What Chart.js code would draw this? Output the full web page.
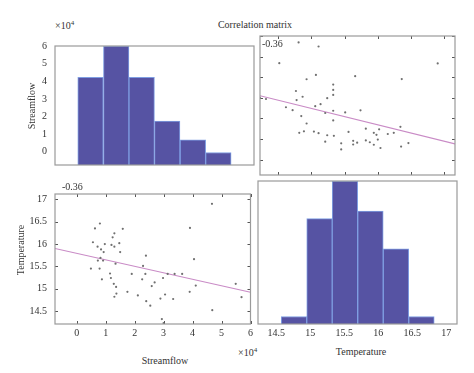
<!DOCTYPE html>
<html>
<head>
<meta charset="utf-8">
<script src="https://cdn.jsdelivr.net/npm/chart.js@4.4.0/dist/chart.umd.min.js"></script>
<style>
  body { margin: 0; background: #fff; }
  #wrap { position: relative; width: 474px; height: 373px; overflow: hidden; font-family: "Liberation Serif", serif; color: #333; }
  canvas { position: absolute; }
  .txt { position: absolute; font-size: 10px; line-height: 1; white-space: nowrap; transform: translate(-50%, -50%); }
  .rot { transform: translate(-50%, -50%) rotate(-90deg); }
  .left { transform: translate(0, -50%); }
  sup { font-size: 7px; vertical-align: 4px; }
</style>
</head>
<body>
<div id="wrap">
  <canvas id="c11"></canvas>
  <canvas id="c12"></canvas>
  <canvas id="c21"></canvas>
  <canvas id="c22"></canvas>

  <div class="txt" style="left:255px; top:25px;">Correlation matrix</div>
  <div class="txt left" style="left:55px; top:25px;">×10<sup>4</sup></div>
  <div class="txt rot" style="left:32px; top:106px;">Streamflow</div>
  <div class="txt rot" style="left:21px; top:250px;">Temperature</div>
  <div class="txt" style="left:165px; top:361px;">Streamflow</div>
  <div class="txt left" style="left:238px; top:352px;">×10<sup>4</sup></div>
  <div class="txt" style="left:361px; top:352px;">Temperature</div>
  <div class="txt left" style="left:262px; top:44px;">-0.36</div>
  <div class="txt left" style="left:62px; top:187px;">-0.36</div>
</div>

<script>
// streamflow (x10^4) and temperature, one pair per observation
const streamflow = [4.67, 0.63, 0.80, 1.30, 1.59, 3.91, 1.24, 0.56, 0.72, 0.97,
  1.20, 1.30, 1.47, 0.84, 0.93, 1.50, 2.39, 0.82, 0.73, 0.91,
  4.05, 0.49, 0.79, 1.34, 2.29, 1.15, 1.90, 2.37, 3.14, 3.38,
  3.64, 0.87, 1.18, 2.26, 2.98, 2.69, 1.28, 1.36, 4.11, 2.59,
  5.49, 1.75, 3.90, 2.11, 3.05, 1.30, 1.37, 2.40, 2.89, 3.33,
  2.54, 4.68, 2.94, 3.00, 5.69];
const temperature = [16.90, 16.35, 16.46, 16.24, 16.34, 16.36, 16.15, 16.04, 15.94, 16.00,
  15.98, 15.94, 16.02, 15.88, 15.82, 15.82, 15.74, 15.69, 15.63, 15.63,
  15.66, 15.45, 15.45, 15.56, 15.51, 15.34, 15.33, 15.33, 15.33, 15.33,
  15.33, 15.21, 15.24, 15.21, 15.24, 15.14, 15.11, 15.04, 15.07, 15.06,
  15.11, 14.93, 14.93, 14.85, 14.87, 14.82, 14.89, 14.72, 14.78, 14.77,
  14.62, 14.52, 14.32, 14.23, 14.81];

// histograms
const flowBins = [0.454, 1.326, 2.191, 3.056, 3.928, 4.792];
const flowCounts = [14, 19, 14, 7, 4, 2];
const tempBins = [14.76, 15.135, 15.51, 15.886, 16.262, 16.637];
const tempCounts = [1, 14, 19, 15, 10, 1];

// least squares lines, end points
const fitTempX = [-0.75, 6];
const fitTempY = [15.90, 14.92];
const fitFlowX = [14.23, 17.16];
const fitFlowY = [3.10, 0.76];

const flowTicks = [0, 1, 2, 3, 4, 5, 6];
const tempTicks = [14.5, 15, 15.5, 16, 16.5, 17];

const flowRange = [-0.75, 6];
const tempRange = [14.23, 17.16];
const tempRangeY = [14.21, 17.12];

const barFill = '#5653a3';
const barEdge = '#7f9ee2';
const fitColor = '#c98bc6';
const dotColor = '#707070';
const tickFont = { family: 'Liberation Serif', size: 10 };

// draws the box round the axes and the inward ticks
function boxPlugin(ticksX, ticksY) {
  return {
    id: 'box',
    afterDraw(chart) {
      const { ctx, chartArea: a } = chart;
      ctx.save();
      if (ticksX) {
        const sx = chart.scales.x, sy = chart.scales.y;
        ctx.strokeStyle = '#555';
        ctx.lineWidth = 1;
        ctx.beginPath();
        ticksX.forEach(v => {
          const px = Math.round(sx.getPixelForValue(v)) + 0.5;
          ctx.moveTo(px, a.bottom); ctx.lineTo(px, a.bottom - 3);
          ctx.moveTo(px, a.top); ctx.lineTo(px, a.top + 3);
        });
        ticksY.forEach(v => {
          const py = Math.round(sy.getPixelForValue(v)) + 0.5;
          ctx.moveTo(a.left, py); ctx.lineTo(a.left + 3, py);
          ctx.moveTo(a.right, py); ctx.lineTo(a.right - 3, py);
        });
        ctx.stroke();
      }
      ctx.strokeStyle = '#9a9a9a';
      ctx.lineWidth = 1.2;
      ctx.strokeRect(a.left, a.top, a.width, a.height);
      ctx.restore();
    }
  };
}

function axis(range, ticks, show, side, pad) {
  const ax = {
    type: 'linear',
    min: range[0],
    max: range[1],
    display: show,
    offset: false,
    grid: { display: false, drawTicks: false },
    border: { display: false },
    afterBuildTicks: s => { s.ticks = ticks.map(v => ({ value: v })); },
    ticks: {
      font: tickFont,
      color: '#333',
      autoSkip: false,
      maxRotation: 0,
      padding: side === 'y' ? 8 : 3,
      callback: v => String(v)
    }
  };
  if (show) {
    if (side === 'y') ax.afterFit = s => { s.width = pad.l; };
    else ax.afterFit = s => { s.height = pad.b; };
  }
  return ax;
}

function place(id, box, pad) {
  const cv = document.getElementById(id);
  cv.width = box.w + pad.l + pad.r;
  cv.height = box.h + pad.t + pad.b;
  cv.style.left = (box.x - pad.l) + 'px';
  cv.style.top = (box.y - pad.t) + 'px';
  return cv;
}

function histogram(id, box, pad, xRange, xTicks, yRange, yTicks, showX, showY, bins, counts) {
  const cv = place(id, box, pad);
  return new Chart(cv, {
    type: 'bar',
    data: {
      datasets: [{
        data: bins.map((b, i) => ({ x: b, y: counts[i] })),
        yAxisID: 'yh',
        backgroundColor: barFill,
        borderColor: barEdge,
        borderWidth: 1,
        barPercentage: 1,
        categoryPercentage: 1
      }]
    },
    options: {
      responsive: false,
      animation: false,
      layout: { padding: { top: pad.t, right: pad.r, left: showY ? 0 : pad.l, bottom: showX ? 0 : pad.b } },
      plugins: { legend: { display: false }, tooltip: { enabled: false } },
      scales: {
        x: axis(xRange, xTicks, showX, 'x', pad),
        y: axis(yRange, yTicks, showY, 'y', pad),
        yh: { type: 'linear', display: false, min: 0, max: Math.max(...counts) }
      }
    },
    plugins: [boxPlugin(null, null)]
  });
}

function scatter(id, box, pad, xs, ys, xRange, yRange, xTicks, yTicks, showX, showY, fitX, fitY) {
  const cv = place(id, box, pad);
  return new Chart(cv, {
    type: 'scatter',
    data: {
      datasets: [{
        data: xs.map((v, i) => ({ x: v, y: ys[i] })),
        pointRadius: 1.1,
        pointBackgroundColor: dotColor,
        pointBorderWidth: 0
      }, {
        type: 'line',
        data: fitX.map((v, i) => ({ x: v, y: fitY[i] })),
        borderColor: fitColor,
        borderWidth: 1.2,
        pointRadius: 0,
        fill: false
      }]
    },
    options: {
      responsive: false,
      animation: false,
      layout: { padding: { top: pad.t, right: pad.r, left: showY ? 0 : pad.l, bottom: showX ? 0 : pad.b } },
      plugins: { legend: { display: false }, tooltip: { enabled: false } },
      scales: {
        x: axis(xRange, xTicks, showX, 'x', pad),
        y: axis(yRange, yTicks, showY, 'y', pad)
      }
    },
    plugins: [boxPlugin(xTicks, yTicks)]
  });
}

// top left: streamflow histogram
histogram('c11', { x: 55, y: 34, w: 199, h: 143 }, { l: 40, r: 2, t: 2, b: 2 },
  flowRange, flowTicks, flowRange, flowTicks, false, true, flowBins, flowCounts);

// top right: streamflow against temperature
scatter('c12', { x: 258, y: 34, w: 199, h: 143 }, { l: 2, r: 2, t: 2, b: 2 },
  temperature, streamflow, tempRange, flowRange, tempTicks, flowTicks, false, false, fitFlowX, fitFlowY);

// bottom left: temperature against streamflow
scatter('c21', { x: 55, y: 182, w: 199, h: 142 }, { l: 40, r: 2, t: 2, b: 20 },
  streamflow, temperature, flowRange, tempRangeY, flowTicks, tempTicks, true, true, fitTempX, fitTempY);

// bottom right: temperature histogram
histogram('c22', { x: 258, y: 181, w: 199, h: 143 }, { l: 2, r: 14, t: 2, b: 20 },
  tempRange, tempTicks, tempRangeY, tempTicks, true, false, tempBins, tempCounts);
</script>
</body>
</html>
